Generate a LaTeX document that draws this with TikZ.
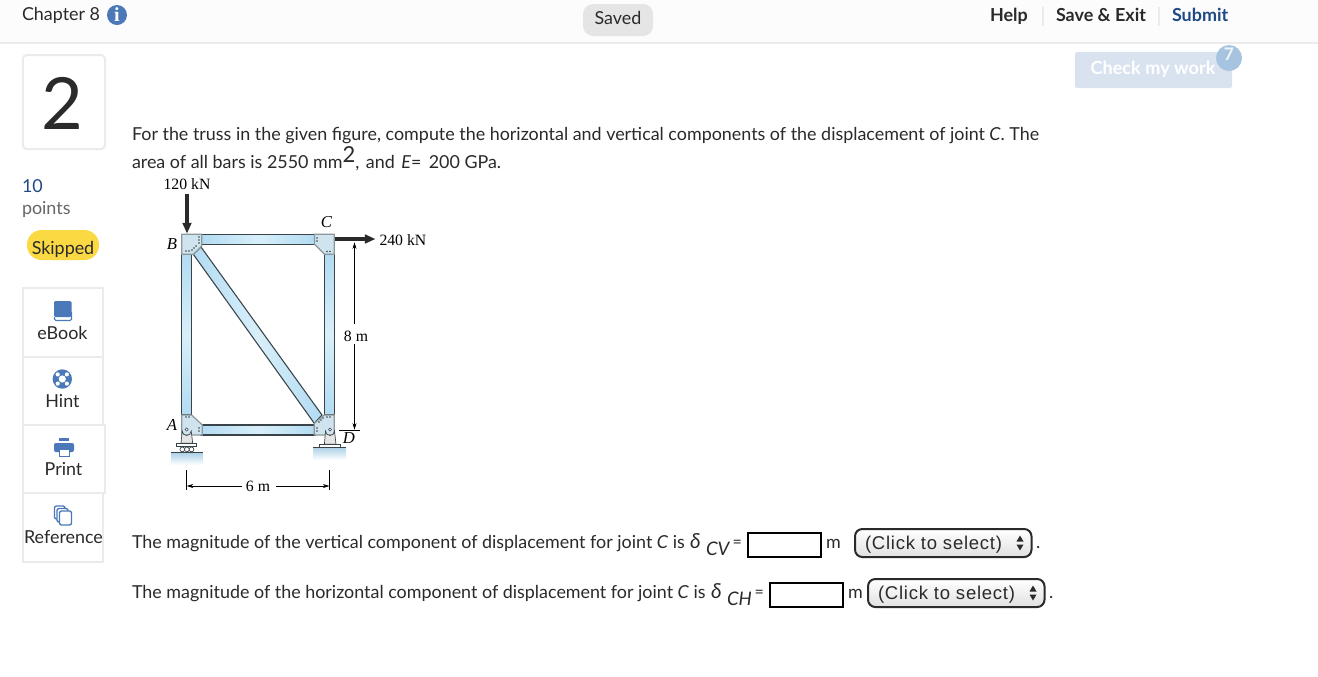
\documentclass[tikz,border=0pt]{standalone}
\usepackage{fontspec}
\setmainfont{Lato}
\newfontfamily\trussfont{Liberation Serif}
\newfontfamily\pickfont[LetterSpace=4]{Liberation Sans}
\usetikzlibrary{arrows.meta}
\definecolor{ink}{HTML}{2A2A2A}
\definecolor{navy}{HTML}{1F4A85}
\definecolor{iconblue}{HTML}{4A78B8}
\definecolor{hair}{HTML}{EBEBEB}
\definecolor{barlo}{HTML}{B2DBF2}
\definecolor{barhi}{HTML}{D8EFFA}
\definecolor{gus}{HTML}{CFE4EE}
\definecolor{gusline}{HTML}{8C979C}
\definecolor{steel}{HTML}{3A4348}
\definecolor{checkbg}{HTML}{D9E3EF}
\definecolor{badgebg}{HTML}{A6C4DF}
\definecolor{pill}{HTML}{FBD943}
\newcommand{\sz}[1]{\fontsize{#1}{#1}\selectfont}
\tikzset{
  x=0.75pt,y=-0.75pt,
  txt/.style={anchor=base west,inner sep=0pt,outer sep=0pt,text=ink,font=\sz{13.42}},
  uitxt/.style={anchor=base,inner sep=0pt,outer sep=0pt,text=ink,font=\sz{13.42}},
  boldtxt/.style={anchor=base west,inner sep=0pt,outer sep=0pt,text=ink,font=\sz{13.45}\bfseries},
  tl/.style={inner sep=0pt,outer sep=0pt,text=black,font=\trussfont\sz{11.8}},
  tli/.style={inner sep=0pt,outer sep=0pt,text=black,font=\trussfont\itshape\sz{12.5}},
  tab/.style={draw=hair,line width=1.5pt,fill=white},
  hbar/.style={draw=steel,line width=0.8pt,left color=barlo,right color=barlo,middle color=barhi},
  vbar/.style={draw=steel,line width=0.8pt,top color=barlo,bottom color=barlo,middle color=barhi},
  gusset/.style={draw=gusline,line width=0.9pt,fill=gus},
  dim/.style={draw=black,line width=0.5pt},
  dimtip/.style={-{Stealth[length=5pt,width=3pt]}},
  load/.style={draw=ink,line width=2.5pt,-{Stealth[length=8pt,width=6.5pt,inset=0pt]}},
  inbox/.style={draw=black,line width=1.5pt,fill=white},
  pick/.style={draw=ink,line width=1.5pt,rounded corners=5.5pt,top color=white,bottom color=black!12},
  picktxt/.style={anchor=base west,inner sep=0pt,outer sep=0pt,text=ink,font=\pickfont\sz{13.9}},
  pin/.style={draw=steel,line width=0.5pt,fill=black!10},
  ground/.style={top color=barlo!95!black,bottom color=white,draw=none},
  rivet/.style={fill=steel,draw=none},
  iconline/.style={draw=iconblue,line width=1pt,fill=white},
}
\begin{document}
\begin{tikzpicture}
\useasboundingbox (0,0) rectangle (1318,676);
\fill[white] (0,0) rectangle (1318,676);
% header
\fill[black!1] (0,0) rectangle (1318,42);
\draw[hair,line width=1.2pt] (0,43) -- (1318,43);
\node[txt] (chapter) at (22,20) {Chapter 8};
\fill[iconblue] (117,15) circle (10);
\node[inner sep=0pt,text=white,font=\trussfont\sz{15}\bfseries] (info) at (117,15) {i};
\fill[black!10,rounded corners=7.5pt] (583,4) rectangle (653,36);
\node[uitxt] (saved) at (618,24) {Saved};
\node[boldtxt] (help) at (990,21) {Help};
\draw[hair,line width=1pt] (1043,7) -- (1043,26);
\node[boldtxt] (save) at (1056,21) {Save \& Exit};
\draw[hair,line width=1pt] (1159,7) -- (1159,26);
\node[boldtxt,text=navy] (submit) at (1172,21) {Submit};
% check my work
\fill[checkbg,rounded corners=1.5pt] (1075,52) rectangle (1232,88);
\node[inner sep=0pt,anchor=base,text=white,font=\sz{13.6}\bfseries] (check) at (1153,74) {Check my work};
\fill[badgebg] (1229,58) circle (13);
\node[inner sep=0pt,text=white!85!badgebg,font=\sz{13}\bfseries] (badge) at (1229,54) {7};
% question number
\draw[hair,line width=1.5pt,rounded corners=3pt] (22.8,55) rectangle (105,149);
\node[inner sep=0pt,text=ink,font=\sz{54}] (num) at (62.5,103) {2};
\node[txt,text=navy] (pts) at (22,192) {10};
\node[txt,text=black!60] (ptsl) at (22,214) {points};
\fill[pill,rounded corners=11pt] (27,230) rectangle (99,260);
\node[uitxt] (skipped) at (63,254) {Skipped};
% side tabs
\draw[tab] (22.8,288) rectangle (103.3,357);
\draw[tab] (22.8,357) rectangle (103.3,425);
\draw[tab] (22.8,425) rectangle (105,493);
\draw[tab] (22.8,493) rectangle (103.3,562);
\node[uitxt] (ebook) at (62.5,339) {eBook};
\node[uitxt] (hint) at (62.5,407) {Hint};
\node[uitxt] (print) at (63.5,475) {Print};
\node[uitxt] (reference) at (63.5,543) {Reference};
% book
\fill[iconblue,rounded corners=1pt] (54,301) rectangle (71.5,317);
\draw[iconblue,line width=0.8pt,rounded corners=1pt] (54.5,317) -- (54.5,320.5) -- (71.5,320.5) -- (71.5,312);
% lifebuoy
\fill[iconblue] (62.3,379) circle (9.7);
\fill[white] (62.3,379) circle (3.6);
\foreach \a in {45,135,225,315}{\fill[white] (62.3,379) ++(\a:6.5) circle (2.1);}
% printer
\fill[iconblue] (59,438) rectangle (69,441);
\fill[iconblue,rounded corners=1.5pt] (54,443) rectangle (74,452);
\fill[white,draw=iconblue,line width=0.6pt] (59,449) rectangle (69,456);
% reference pages
\draw[iconline,rounded corners=1.5pt] (54.5,506) rectangle (65,519);
\draw[iconline,rounded corners=1.5pt] (57,508.5) rectangle (68,522);
\draw[iconline,rounded corners=1.5pt] (59.5,511) rectangle (71.5,525);
% question text
\node[txt] (q1) at (132,140) {For the truss in the given figure, compute the horizontal and vertical components of the displacement of joint \textit{C}. The};
\node[txt] (q2) at (132,168) {area of all bars is 2550 mm\raisebox{4.5pt}{\sz{16.5}2},\hspace{1.5pt} and\hspace{1.5pt} \textit{E}=\hspace{2pt} 200 GPa.};
% answer line 1
\node[txt] (a1) at (132,548) {The magnitude of the vertical component of displacement for joint \textit{C} is};
\node[txt,font=\sz{15.5}\itshape] (d1) at (690,548) {δ};
\node[txt,font=\sz{14}\itshape] (cv) at (706,555) {CV};
\node[txt,font=\sz{12}] (e1) at (732.5,547) {=};
\draw[inbox] (748,533) rectangle (820.5,557);
\node[txt] (m1) at (826,548) {m};
\draw[pick] (855,529) rectangle (1031.5,557);
\node[picktxt] (s1) at (865,549) {(Click to select)};
\fill[ink] (1020,535.5) -- (1016.5,541.5) -- (1023.5,541.5) -- cycle;
\fill[ink] (1020,550.5) -- (1016.5,544.5) -- (1023.5,544.5) -- cycle;
\node[txt] (p1) at (1036,548) {.};
% answer line 2
\node[txt] (a2) at (132,598) {The magnitude of the horizontal component of displacement for joint \textit{C} is};
\node[txt,font=\sz{15.5}\itshape] (d2) at (711,598) {δ};
\node[txt,font=\sz{14}\itshape] (ch) at (727,605) {CH};
\node[txt,font=\sz{12}] (e2) at (754.5,597) {=};
\draw[inbox] (770,582.5) rectangle (842.5,607);
\node[txt] (m2) at (848,598) {m};
\draw[pick] (868,579) rectangle (1044.5,607);
\node[picktxt] (s2) at (878,599) {(Click to select)};
\fill[ink] (1033,585.5) -- (1029.5,591.5) -- (1036.5,591.5) -- cycle;
\fill[ink] (1033,600.5) -- (1029.5,594.5) -- (1036.5,594.5) -- cycle;
\node[txt] (p2) at (1049,598) {.};
% ---- truss ----
\shade[ground] (171,452.3) rectangle (202.7,465);
\shade[ground] (313,447) rectangle (346,460);
\draw[hbar] (201,234.3) rectangle (315,244.5);
\draw[hbar] (201,425) rectangle (315,435);
\draw[vbar] (181.7,254) rectangle (191.7,415);
\draw[vbar] (324.3,254) rectangle (334.3,415);
\draw[hbar] (193.3,254.3) -- (201,247) -- (322,415) -- (314.3,423.3) -- cycle;
% gussets
\draw[gusset] (181.7,234.3) -- (201.7,234.3) -- (201.7,246) -- (193.3,254.3) -- (181.7,254.3) -- cycle;
\draw[gusset] (314.5,234.3) -- (334.3,234.3) -- (334.3,254.3) -- (324.5,254.3) -- (314.5,244.3) -- cycle;
\draw[gusset] (181.7,415) -- (191.7,415) -- (202.3,425) -- (202.3,435) -- (181.7,435) -- cycle;
\draw[gusset] (324.3,415) -- (334.3,415) -- (334.3,435) -- (314.3,435) -- (314.3,423.3) -- cycle;
\foreach \p in {(199,237),(199,240),(199,243)}{\fill[rivet] \p circle (0.9);}
\foreach \p in {(186,251),(189,251),(196,246),(194,248),(192,250)}{\fill[rivet] \p circle (0.9);}
\foreach \p in {(317,238),(317,241),(327,251.5),(330,251.5)}{\fill[rivet] \p circle (0.9);}
\foreach \p in {(186,417),(189,417),(199,428),(199,431)}{\fill[rivet] \p circle (0.9);}
\foreach \p in {(317,428),(317,431),(327,417),(330,417),(319,422),(321,420),(323,418)}{\fill[rivet] \p circle (0.9);}
% supports
\draw[pin] (181,443.3) -- (182.2,431) arc (180:0:4.5) -- (192.7,443.3) -- cycle;
\draw[pin] (324.4,444.3) -- (325.5,431) arc (180:0:4.5) -- (336,444.3) -- cycle;
\fill[white,draw=steel,line width=0.4pt] (186.7,429.5) circle (1.6);
\fill[white,draw=steel,line width=0.4pt] (330,429.5) circle (1.6);
\draw[draw=steel,line width=0.6pt,fill=white] (176,443.3) rectangle (196.7,446.3);
\draw[draw=steel,line width=0.6pt,fill=white] (319.3,444.3) rectangle (340,447);
\foreach \cx in {182.3,186.9,191.5}{\draw[draw=steel,line width=0.5pt,fill=white] (\cx,449.4) circle (2.4);}
\draw[draw=steel,line width=0.6pt] (171,452.3) -- (202.7,452.3);
\draw[draw=steel,line width=0.6pt] (313,447) -- (346,447);
% loads
\coordinate (lt) at (187,194);
\coordinate (lb) at (187,233.5);
\coordinate (rl) at (335,239);
\coordinate (rr) at (375.5,239);
\draw[load] (lt) -- (lb);
\draw[load] (rl) -- (rr);
\node[tl] (f1) at (187,184) {120 kN};
\node[tl,anchor=west] (f2) at (379.5,240) {240 kN};
\node[tli] (nb) at (172,244) {B};
\node[tli] (nc) at (326.5,222) {C};
\node[tli] (na) at (172,425) {A};
\node[tli] (nd) at (349,438) {D};
% 8 m dimension
\node[tl] (h8) at (356,336) {8 m};
\coordinate (d8t) at (354.5,242.3);
\coordinate (d8b) at (354.5,429.7);
\coordinate (e8a) at (339,430.3);
\coordinate (e8b) at (360,430.3);
\draw[dim,dimtip] (d8b |- h8.south) ++(0,3) -- (d8b);
\draw[dim,dimtip] (d8t |- h8.north) ++(0,-7) -- (d8t);
\draw[dim] (e8a) -- (e8b);
% 6 m dimension
\node[tl] (w6) at (258,486) {6 m};
\coordinate (x6l) at (186.7,486);
\coordinate (x6r) at (329.5,486);
\coordinate (t6l) at (186.7,470);
\coordinate (b6l) at (186.7,490);
\coordinate (t6r) at (329.5,470);
\coordinate (b6r) at (329.5,490);
\draw[dim] (t6l) -- (b6l);
\draw[dim] (t6r) -- (b6r);
\draw[dim,dimtip] (w6.west) ++(-4,0) -- (x6l);
\draw[dim,dimtip] (w6.east) ++(6,0) -- (x6r);
\end{tikzpicture}
\end{document}
